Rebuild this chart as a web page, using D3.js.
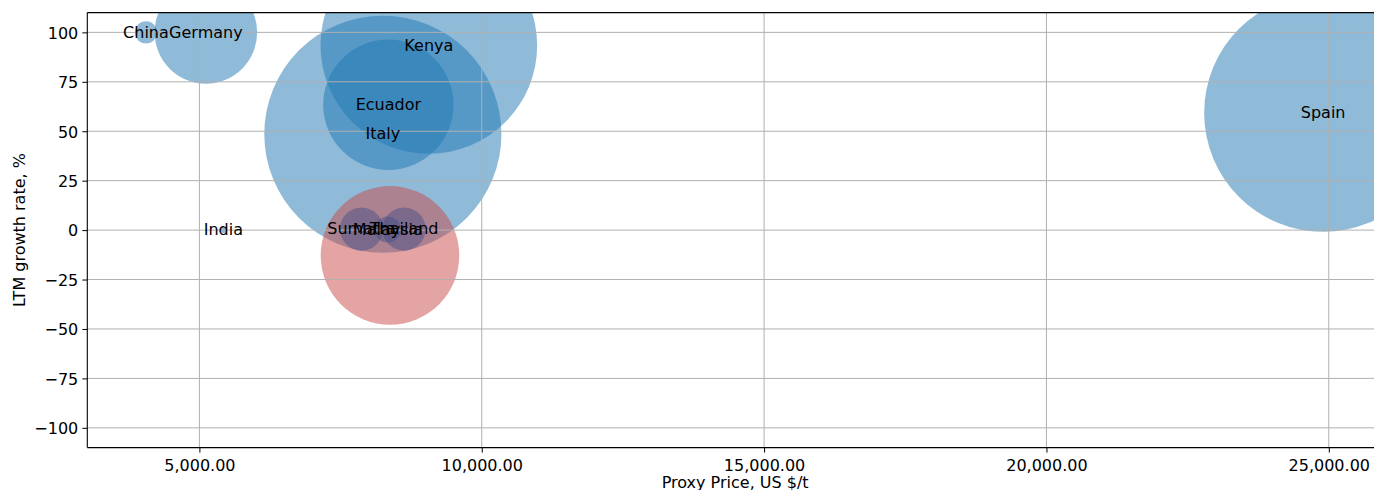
<!DOCTYPE html>
<html>
<head>
<meta charset="utf-8">
<script src="https://cdn.jsdelivr.net/npm/d3@7"></script>
<style>
  html, body { margin: 0; padding: 0; background: #fff; overflow: hidden; }
  text { font-family: "DejaVu Sans", sans-serif; fill: #000; }
</style>
</head>
<body>
<svg id="chart" width="1374" height="490"></svg>
<script>
// ---- data ----
const countries = ["Italy", "Kenya", "Ecuador", "Spain", "Germany", "China", "India", "", "Sumatra", "Malaysia", "Thailand"];
const proxyPrice = [8249, 9063, 8346, 24900, 5115, 4054, 5424, 8375, 7870, 8337, 8625];
const growthRate = [48.5, 93.4, 63.4, 59.3, 100, 100, 0, -12.8, 0.5, 0.3, 0.5];
const volume     = [13900, 11600, 4200, 14000, 2600, 120, 9, 4750, 460, 170, 460];
const group      = ["growth", "growth", "growth", "growth", "growth", "growth", "growth", "decline", "flat", "flat", "flat"];
const xTicks = [5000, 10000, 15000, 20000, 25000];
const yTicks = [-100, -75, -50, -25, 0, 25, 50, 75, 100];
const xDomain = [3015, 25960];
const yDomain = [-110, 110];
const xTitle = "Proxy Price, US $/t";
const yTitle = "LTM growth rate, %";

const data = countries.map((c, i) => ({
  name: c, x: proxyPrice[i], y: growthRate[i], v: volume[i], g: group[i]
}));

// ---- layout ----
const L = 87.3, R = 1383, T = 12.6, B = 447.6;
const svg = d3.select("#chart");

const x = d3.scaleLinear().domain(xDomain).range([L, R]);
const y = d3.scaleLinear().domain(yDomain).range([B, T]);
const r = d3.scaleSqrt().domain([0, d3.max(volume)]).range([0, 119]);
const color = d3.scaleOrdinal()
  .domain(["growth", "decline", "flat"])
  .range(["rgb(31,119,180)", "rgb(201,73,73)", "rgb(74,80,136)"]);

svg.append("defs").append("clipPath").attr("id", "plotclip")
  .append("rect").attr("x", L).attr("y", T).attr("width", R - L).attr("height", B - T);

// bubbles
svg.append("g").attr("clip-path", "url(#plotclip)")
  .selectAll("circle").data(data).join("circle")
  .attr("cx", d => x(d.x))
  .attr("cy", d => y(d.y))
  .attr("r", d => r(d.v))
  .attr("fill", d => color(d.g))
  .attr("fill-opacity", 0.5);

// grid (drawn above the bubbles, like matplotlib)
const grid = svg.append("g").attr("stroke", "#b0b0b0").attr("stroke-width", 1);
grid.selectAll(".gx").data(xTicks).join("line")
  .attr("x1", d => x(d)).attr("x2", d => x(d)).attr("y1", T).attr("y2", B);
grid.selectAll(".gy").data(yTicks).join("line")
  .attr("x1", L).attr("x2", R).attr("y1", d => y(d)).attr("y2", d => y(d));

// axes
const xAxis = d3.axisBottom(x).tickValues(xTicks).tickFormat(d3.format(",.2f"))
  .tickSize(5).tickSizeOuter(0).tickPadding(7);
const gx = svg.append("g").attr("transform", `translate(0,${B})`).call(xAxis);
gx.select(".domain").remove();
gx.selectAll("text").attr("font-size", 16).attr("font-family", "DejaVu Sans");
gx.selectAll("line").attr("stroke", "#000");

const yAxis = d3.axisLeft(y).tickValues(yTicks).tickSize(5).tickSizeOuter(0).tickPadding(4);
const gy = svg.append("g").attr("transform", `translate(${L},0)`).call(yAxis);
gy.select(".domain").remove();
gy.selectAll("text").attr("font-size", 16).attr("font-family", "DejaVu Sans").attr("dy", "0.36em");
gy.selectAll("line").attr("stroke", "#000");

// spines
const sp = svg.append("g").attr("stroke", "#000").attr("stroke-width", 1.1).attr("fill", "none");
sp.append("line").attr("x1", L).attr("x2", L).attr("y1", T).attr("y2", B);
sp.append("line").attr("x1", L).attr("x2", R).attr("y1", B).attr("y2", B);
sp.append("line").attr("x1", L).attr("x2", R).attr("y1", T).attr("y2", T);
sp.append("line").attr("x1", R).attr("x2", R).attr("y1", T).attr("y2", B);

// point labels
svg.append("g").selectAll("text").data(data.filter(d => d.name)).join("text")
  .attr("x", d => x(d.x))
  .attr("y", d => y(d.y))
  .attr("dy", "0.33em")
  .attr("text-anchor", "middle")
  .attr("font-size", 16)
  .text(d => d.name);

// axis titles
svg.append("text")
  .attr("x", (L + R) / 2).attr("y", 488)
  .attr("text-anchor", "middle").attr("font-size", 16)
  .text(xTitle);
svg.append("text")
  .attr("transform", `translate(25,${(T + B) / 2}) rotate(-90)`)
  .attr("text-anchor", "middle").attr("font-size", 16)
  .text(yTitle);
</script>
</body>
</html>
